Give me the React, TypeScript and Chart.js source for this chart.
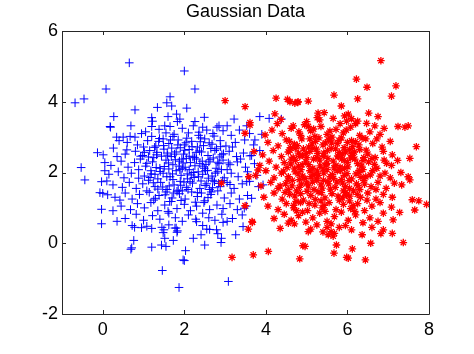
import React, { useEffect, useRef } from "react";
import { Chart, registerables } from "chart.js";

Chart.register(...registerables);

const chartTitle = "Gaussian Data";
const xTicks = [0, 2, 4, 6, 8];
const yTicks = [-2, 0, 2, 4, 6];
const xRange = [-1, 8];
const yRange = [-2, 6];

const bluePoints: [number, number][] = [
  [0.65,5.1],[2.0,4.87],[0.08,4.36],[-0.68,3.97],[-0.46,4.08],[0.27,3.58],[0.79,3.77],[0.69,3.32],[0.19,3.28],[1.34,3.84],
  [1.2,3.55],[1.22,3.45],[1.2,3.3],[1.65,4.14],[1.57,3.97],[1.69,3.88],[1.6,3.58],[1.81,3.65],[1.89,3.51],[1.83,3.44],
  [1.52,3.32],[1.65,3.3],[2.26,4.36],[2.06,3.82],[2.49,3.56],[2.26,3.44],[2.22,3.32],[3.22,3.51],[2.85,3.32],[3.05,3.32],
  [3.85,3.58],[4.08,3.53],[4.38,3.51],[3.53,3.32],
  [3.08,-1.08],[1.87,-1.25],[2.0,-0.49],[2.03,-0.21],[2.5,-0.05],[2.9,0.02],[2.91,0.14],[3.26,0.24],[3.44,0.47],[-0.03,0.55],
  [0.76,0.08],[0.69,-0.17],[0.71,-0.13],[1.2,-0.11],[1.44,-0.05],[1.55,-0.09],[1.73,0.08],[1.46,-0.77],[1.97,-0.47],[1.52,0.14],
  [-0.53,2.14],[-0.44,1.79],[-0.13,2.56],[0.01,2.5],[0.05,2.28],[-0.03,1.74],[0.1,1.76],[-0.07,1.43],[0.0,1.41],[0.12,1.37],
  [-0.03,0.96],[0.18,3.3],[0.34,3.0],[0.5,3.0],[0.67,3.02],[0.79,3.0],[0.26,2.69],[0.59,2.64],
  [0.72,0.5],[0.78,0.45],[0.95,0.44],[1.08,0.48],[1.2,0.42],[1.45,0.45],[1.5,0.38],[1.62,0.52],[1.8,0.43],[1.83,0.35],[1.48,0.3],
  [2.22,0.14],[2.41,0.24],[2.55,0.4],[2.62,0.39],[2.79,0.38],[2.82,0.27],[2.3,0.61],[2.45,0.5],[2.95,0.59],[3.05,0.62],[1.77,0.43],[1.82,0.31],
  [1.05,3.15],[1.38,3.22],[1.75,3.08],[1.95,3.25],[2.1,3.12],[2.35,3.05],[2.55,3.2],[2.7,3.1],[2.95,3.18],[3.15,3.05],
  [3.35,3.2],[1.2,3.02],[1.55,3.12],[2.8,3.28],[0.95,3.1],[2.45,3.28],[3.6,3.1],
  [0.6,2.85],[0.85,2.78],[1.1,2.9],[1.3,2.75],[1.48,2.95],[1.62,2.82],[1.85,2.92],[2.0,2.78],[2.18,2.88],[2.32,2.72],
  [2.5,2.95],[2.68,2.8],[2.88,2.9],[3.02,2.75],[3.25,2.85],[3.48,2.92],[1.9,2.7],[2.4,2.98],[0.4,2.9],[3.7,2.78],[1.0,2.72],
  [0.35,2.45],[0.55,2.52],[0.8,2.6],[0.98,2.48],[1.15,2.62],[1.32,2.5],[1.5,2.66],[1.68,2.45],[1.8,2.58],[1.98,2.52],
  [2.12,2.65],[2.25,2.42],[2.42,2.58],[2.58,2.48],[2.75,2.62],[2.92,2.5],[3.1,2.6],[3.28,2.45],[3.45,2.55],[3.65,2.48],
  [1.25,2.42],[2.05,2.4],[2.65,2.68],[1.58,2.55],[3.85,2.62],
  [0.2,2.2],[0.45,2.32],[0.62,2.15],[0.78,2.28],[0.92,2.38],[1.05,2.18],[1.22,2.3],[1.4,2.12],[1.55,2.35],[1.72,2.22],
  [1.88,2.32],[2.02,2.15],[2.15,2.28],[2.3,2.38],[2.45,2.18],[2.6,2.3],[2.78,2.12],[2.95,2.35],[3.12,2.22],[3.3,2.3],
  [3.5,2.15],[3.72,2.25],[1.62,2.1],[2.38,2.25],[0.05,2.05],[2.85,2.25],[1.95,2.12],[3.38,2.38],
  [0.15,1.95],[0.38,2.02],[0.52,1.85],[0.7,1.98],[0.88,2.08],[1.02,1.9],[1.18,2.05],[1.35,1.82],[1.48,1.98],[1.65,1.88],
  [1.8,2.05],[1.92,1.92],[2.08,1.82],[2.22,2.0],[2.35,1.88],[2.52,2.05],[2.68,1.9],[2.82,2.02],[2.98,1.85],[3.15,1.98],
  [3.32,1.88],[3.55,2.02],[3.78,1.92],[1.28,1.95],[2.45,1.95],[2.12,2.08],[1.72,1.8],[3.05,2.08],
  [0.25,1.65],[0.48,1.58],[0.65,1.72],[0.82,1.55],[0.98,1.68],[1.12,1.78],[1.28,1.6],[1.42,1.72],[1.58,1.52],[1.75,1.65],
  [1.9,1.75],[2.05,1.58],[2.2,1.7],[2.38,1.55],[2.55,1.68],[2.7,1.78],[2.88,1.6],[3.05,1.72],[3.22,1.55],[3.42,1.68],
  [3.6,1.75],[3.82,1.6],[1.85,1.5],[2.62,1.52],
  [0.3,1.3],[0.55,1.42],[0.72,1.25],[0.9,1.38],[1.08,1.48],[1.25,1.22],[1.38,1.35],[1.55,1.45],[1.7,1.28],[1.88,1.4],
  [2.02,1.25],[2.18,1.45],[2.32,1.32],[2.5,1.2],[2.65,1.38],[2.82,1.48],[2.98,1.28],[3.15,1.42],[3.35,1.25],[3.55,1.35],
  [1.95,1.48],[2.42,1.42],[0.42,1.22],
  [0.45,1.05],[0.68,0.95],[0.85,1.12],[1.02,1.0],[1.18,1.15],[1.35,0.92],[1.52,1.08],[1.68,1.18],[1.82,0.98],[2.0,1.1],
  [2.15,0.92],[2.3,1.05],[2.48,1.15],[2.62,0.95],[2.8,1.08],[2.95,0.98],[3.12,1.12],[3.3,0.95],[3.52,1.05],[0.25,0.92],[1.6,0.9],
  [0.55,0.7],[0.82,0.82],[1.0,0.65],[1.22,0.78],[1.4,0.68],[1.62,0.85],[1.78,0.72],[1.95,0.62],[2.1,0.8],[2.28,0.68],
  [2.45,0.85],[2.6,0.72],[2.75,0.65],[2.92,0.82],[3.18,0.7],[3.42,0.8],[0.35,0.62],
  [3.53,1.74],[3.65,1.27],[3.61,2.47],[3.73,2.92],[3.9,3.08],[3.47,0.99],[3.93,1.65],
  [1.12,2.44],[1.27,2.71],[1.41,2.03],[1.53,1.37],[1.66,2.92],[1.78,2.36],[1.91,1.64],[2.04,2.84],[2.17,1.93],[2.29,2.57],
  [2.41,1.76],[2.53,2.23],[2.66,1.45],[2.79,2.67],[2.91,2.08],[1.16,1.86],[1.33,2.57],[1.47,1.59],[1.59,2.49],[1.71,1.96],
  [1.84,2.78],[1.97,2.27],[2.09,1.52],[2.21,2.44],[2.34,2.02],[2.47,2.76],[2.59,1.84],[2.71,2.41],[2.84,1.69],[2.96,2.53],
  [1.08,2.26],[1.24,1.71],[1.37,2.88],[1.51,2.17],[1.63,1.62],[1.76,2.52],[1.89,2.08],[2.01,2.63],[2.14,1.74],[2.26,2.19],
  [2.39,2.87],[2.51,1.63],[2.63,2.36],[2.76,1.98],[2.89,2.73],[1.14,1.44],[1.31,2.14],[1.44,2.46],[1.57,1.88],[1.69,2.69],
  [1.82,1.47],[1.94,2.38],[2.07,1.96],[2.19,2.73],[2.32,1.43],[2.44,2.32],[2.57,2.06],[2.69,1.57],[2.82,2.29],[2.94,1.77],
  [1.02,2.57],[1.19,1.96],[1.35,1.53],[1.49,2.76],[1.61,2.27],[1.74,1.42],[1.87,2.18],[1.99,1.73],[2.12,2.46],[2.24,1.86],
  [2.37,2.61],[2.49,2.12],[2.61,2.84],[2.74,1.74],[2.87,2.44],[1.29,1.27],[1.64,1.18],[1.92,1.21],[2.27,1.16],[2.58,1.29],
  [1.39,2.96],[1.72,3.02],[2.06,2.97],[2.36,3.14],[2.73,3.03],[0.88,1.84],[0.93,2.46],[3.08,2.27],[3.12,1.66],[3.18,2.72]
];

const redPoints: [number, number][] = [
  [3.0,4.03],[3.49,3.86],[4.25,4.1],[4.53,4.07],[4.59,4.0],[4.71,3.96],[4.79,4.0],[4.22,3.66],[4.37,3.5],[3.61,3.41],[4.67,3.32],
  [6.82,5.16],[6.22,4.64],[6.48,4.41],[7.19,4.45],[7.08,4.16],[6.25,4.08],[5.67,4.19],[5.04,4.02],[4.78,3.98],[5.85,3.88],
  [6.52,3.68],[6.75,3.58],[5.28,3.68],[5.43,3.69],[5.26,3.55],[5.32,3.49],[5.65,3.53],[5.0,3.44],[5.04,3.3],[6.47,3.39],
  [6.67,3.32],[7.24,3.3],[7.41,3.28],[7.49,3.32],
  [7.69,2.73],[7.53,2.4],[7.23,2.34],[7.31,2.0],[7.49,1.88],[7.53,1.79],[7.33,1.65],[7.59,1.23],[7.75,1.2],[7.94,1.1],
  [7.65,0.94],[7.28,0.87],[7.08,1.02],[7.12,0.66],[6.88,0.85],[6.96,2.26],[6.92,1.98],
  [7.37,0.02],[7.1,0.28],[6.82,0.27],[6.88,0.38],[6.57,0.0],[6.36,0.24],[6.44,-0.47],[6.12,-0.16],[5.98,-0.4],[6.02,-0.42],
  [5.67,-0.28],[5.73,-0.05],[4.83,-0.44],[4.96,-0.09],[5.04,0.33],[5.53,0.24],[5.6,0.33],[5.65,0.2],[5.68,0.28],
  [3.17,-0.4],[3.69,-0.33],[4.06,-0.23],[3.57,0.4],[3.67,0.59],[4.91,-0.07],[4.55,0.57],[4.7,0.55],
  [5.93,3.6],[6.02,3.65],[5.98,3.45],[6.1,3.52],[6.25,3.45],[6.2,3.38],
  [3.49,3.11],[3.61,3.34],[3.71,2.59],[3.81,2.07],[3.58,1.88],[3.49,1.06],[3.66,0.61],[2.91,1.7],[3.98,3.06],
  [4.15,3.2],[4.4,3.1],[4.62,3.25],[4.85,3.05],[5.1,3.18],[5.35,3.3],[5.5,3.08],[5.72,3.22],[5.9,3.12],[6.08,3.28],
  [6.3,3.05],[6.55,3.15],[6.8,3.08],[5.2,3.02],[5.82,3.38],[6.9,3.25],[4.95,3.35],[5.62,3.0],[4.28,3.38],
  [4.05,2.85],[4.3,2.75],[4.5,2.92],[4.7,2.8],[4.88,2.95],[5.05,2.72],[5.22,2.88],[5.4,2.78],[5.58,2.95],[5.75,2.82],
  [5.92,2.7],[6.1,2.9],[6.28,2.78],[6.45,2.95],[6.62,2.82],[6.85,2.72],[7.05,2.88],[5.3,2.98],[5.85,2.98],[4.6,2.7],
  [6.0,2.85],[6.72,2.95],
  [3.92,2.5],[4.18,2.62],[4.38,2.45],[4.55,2.58],[4.72,2.68],[4.9,2.48],[5.08,2.6],[5.25,2.42],[5.42,2.55],[5.6,2.68],
  [5.78,2.45],[5.95,2.58],[6.12,2.48],[6.3,2.65],[6.5,2.52],[6.68,2.42],[6.88,2.6],[7.1,2.5],[5.15,2.68],[5.52,2.4],
  [6.05,2.65],[4.8,2.55],[6.4,2.42],[5.88,2.52],
  [3.85,2.2],[4.08,2.32],[4.25,2.15],[4.45,2.28],[4.62,2.38],[4.8,2.18],[4.98,2.3],[5.15,2.12],[5.32,2.35],[5.48,2.22],
  [5.65,2.32],[5.82,2.15],[6.0,2.28],[6.18,2.38],[6.35,2.18],[6.52,2.3],[6.72,2.12],[6.9,2.35],[7.08,2.2],[5.05,2.22],
  [5.72,2.2],[6.25,2.25],[4.7,2.1],[5.4,2.1],[6.6,2.4],
  [3.75,1.92],[4.0,2.05],[4.2,1.85],[4.38,1.98],[4.55,1.88],[4.72,2.02],[4.9,1.9],[5.08,2.05],[5.25,1.82],[5.42,1.98],
  [5.58,1.88],[5.75,2.05],[5.92,1.92],[6.1,1.82],[6.28,2.0],[6.45,1.88],[6.62,2.05],[6.8,1.9],[7.05,1.85],[5.18,1.95],
  [5.85,1.8],[6.38,2.08],[4.82,1.8],[5.5,2.08],
  [3.88,1.62],[4.12,1.72],[4.3,1.55],[4.48,1.68],[4.65,1.78],[4.82,1.58],[5.0,1.7],[5.18,1.52],[5.35,1.65],[5.52,1.75],
  [5.7,1.58],[5.88,1.7],[6.05,1.55],[6.22,1.68],[6.4,1.78],[6.58,1.6],[6.75,1.72],[6.95,1.55],[7.15,1.7],[5.25,1.78],
  [5.95,1.6],[4.55,1.52],[6.3,1.52],
  [3.95,1.3],[4.2,1.42],[4.4,1.25],[4.58,1.38],[4.75,1.48],[4.92,1.22],[5.1,1.35],[5.28,1.45],[5.45,1.28],[5.62,1.4],
  [5.8,1.22],[5.98,1.35],[6.15,1.48],[6.32,1.3],[6.5,1.42],[6.7,1.25],[6.88,1.38],[7.1,1.3],[5.35,1.2],[5.9,1.48],
  [4.85,1.4],[6.05,1.2],
  [4.05,1.05],[4.3,0.95],[4.5,1.12],[4.68,1.0],[4.85,1.15],[5.02,0.92],[5.2,1.08],[5.38,1.0],[5.55,1.15],[5.72,0.95],
  [5.9,1.1],[6.08,0.98],[6.25,1.12],[6.42,0.92],[6.6,1.05],[6.8,1.15],[5.45,0.9],[6.18,0.9],[4.75,0.92],
  [4.2,0.7],[4.45,0.82],[4.62,0.65],[4.8,0.78],[4.98,0.6],[5.15,0.72],[5.32,0.85],[5.5,0.62],[5.68,0.75],[5.85,0.88],
  [6.02,0.65],[6.2,0.8],[6.38,0.58],[6.55,0.72],[6.75,0.62],[5.25,0.52],[5.95,0.5],[4.9,0.88],[5.6,0.55],
  [4.35,0.42],[5.1,0.4],[5.4,0.32],[5.8,0.45],[6.1,0.38],[6.6,0.45],[5.5,0.45],
  [4.52,2.14],[4.64,1.62],[4.77,2.76],[4.89,2.22],[5.01,1.47],[5.13,2.81],[5.26,2.04],[5.38,1.56],[5.51,2.62],[5.63,1.94],
  [5.76,2.47],[5.88,1.28],[6.01,2.16],[6.13,2.73],[6.26,1.63],[6.38,2.34],[4.58,2.88],[4.71,1.34],[4.83,2.46],[4.96,1.83],
  [5.08,2.95],[5.21,1.24],[5.33,2.19],[5.46,2.84],[5.58,1.53],[5.71,2.67],[5.83,2.06],[5.96,1.43],[6.08,2.41],[6.21,1.96],
  [4.54,1.78],[4.67,2.43],[4.79,1.96],[4.92,2.67],[5.04,1.62],[5.17,2.38],[5.29,1.92],[5.42,2.46],[5.54,1.68],[5.67,2.13],
  [5.79,2.91],[5.92,2.34],[6.04,1.77],[6.17,2.58],[6.29,2.06],[6.42,1.67],[4.61,2.24],[4.74,1.18],[4.86,2.08],[4.99,2.54],
  [5.11,1.88],[5.24,2.66],[5.36,1.43],[5.49,2.26],[5.61,2.84],[5.74,1.73],[5.86,2.38],[5.99,1.97],[6.11,2.53],[6.24,1.38],
  [4.47,1.44],[4.59,2.63],[4.73,2.34],[4.87,1.67],[5.0,2.42],[5.14,1.73],[5.27,2.54],[5.41,1.78],[5.53,2.92],[5.66,1.83],
  [5.8,2.57],[5.93,2.12],[6.06,1.33],[6.2,2.87],[6.33,1.86],[6.46,2.63],[4.68,1.07],[5.06,1.12],[5.43,1.07],[5.77,1.33],
  [6.14,1.06],[6.48,1.22],[4.81,3.15],[5.17,3.23],[5.57,3.17],[5.97,3.2],[6.36,2.97],[4.43,2.04],[6.56,1.93],[6.66,2.23],
  [6.7,1.52],[4.35,1.62]
];

const FONT = "'Liberation Sans', Arial, Helvetica, sans-serif";
const AXIS_COLOR = "#262626";

const frameTicks = {
  id: "frameTicks",
  afterDatasetsDraw(chart: any) {
    const { ctx, chartArea: a, scales } = chart;
    const len = 4;
    ctx.save();
    ctx.strokeStyle = AXIS_COLOR;
    ctx.lineWidth = 1;
    ctx.beginPath();
    ctx.rect(Math.round(a.left) + 0.5, Math.round(a.top) + 0.5, Math.round(a.right - a.left), Math.round(a.bottom - a.top));
    for (const v of xTicks) {
      const x = Math.round(scales.x.getPixelForValue(v)) + 0.5;
      ctx.moveTo(x, a.bottom);
      ctx.lineTo(x, a.bottom - len);
      ctx.moveTo(x, a.top);
      ctx.lineTo(x, a.top + len);
    }
    for (const v of yTicks) {
      const y = Math.round(scales.y.getPixelForValue(v)) + 0.5;
      ctx.moveTo(a.left, y);
      ctx.lineTo(a.left + len, y);
      ctx.moveTo(a.right, y);
      ctx.lineTo(a.right - len, y);
    }
    ctx.stroke();
    ctx.restore();
  },
};

export default function App() {
  const ref = useRef<HTMLCanvasElement | null>(null);

  useEffect(() => {
    if (!ref.current) return;
    const chart = new Chart(ref.current, {
      type: "scatter",
      data: {
        datasets: [
          {
            label: "Class 1",
            data: bluePoints.map(([x, y]) => ({ x, y })),
            pointStyle: "cross",
            pointRadius: 4.3,
            borderColor: "#0000ff",
            backgroundColor: "#0000ff",
            borderWidth: 1,
            order: 1,
          },
          {
            label: "Class 2",
            data: redPoints.map(([x, y]) => ({ x, y })),
            pointStyle: "star",
            pointRadius: 3.8,
            borderColor: "#ff0000",
            backgroundColor: "#ff0000",
            borderWidth: 1.3,
            order: 0,
          },
        ],
      },
      options: {
        responsive: false,
        animation: false,
        events: [],
        layout: { padding: { left: 0, right: 45, top: 0, bottom: 0 } },
        plugins: {
          legend: { display: false },
          tooltip: { enabled: false },
          title: {
            display: true,
            fullSize: false,
            text: chartTitle,
            color: "#000",
            font: { family: FONT, size: 18, weight: "normal", lineHeight: 1.2 },
            padding: { top: 1, bottom: 8.4 },
          },
        },
        scales: {
          x: {
            type: "linear",
            min: xRange[0],
            max: xRange[1],
            grid: { display: false, drawTicks: false },
            border: { display: false },
            afterBuildTicks: (s: any) => {
              s.ticks = xTicks.map((v) => ({ value: v }));
            },
            afterFit: (s: any) => {
              s.height = 40;
            },
            ticks: {
              color: "#000",
              padding: 5,
              maxRotation: 0,
              font: { family: FONT, size: 18 },
            },
          },
          y: {
            type: "linear",
            min: yRange[0],
            max: yRange[1],
            grid: { display: false, drawTicks: false },
            border: { display: false },
            afterBuildTicks: (s: any) => {
              s.ticks = yTicks.map((v) => ({ value: v }));
            },
            afterFit: (s: any) => {
              s.width = 62;
            },
            ticks: {
              color: "#000",
              padding: 4,
              font: { family: FONT, size: 18 },
            },
          },
        },
      },
      plugins: [frameTicks],
    });
    return () => chart.destroy();
  }, []);

  return (
    <div style={{ position: "absolute", left: 0, top: 0, width: 474, height: 354, background: "#fff" }}>
      <canvas ref={ref} width={474} height={354} style={{ display: "block" }} />
    </div>
  );
}
